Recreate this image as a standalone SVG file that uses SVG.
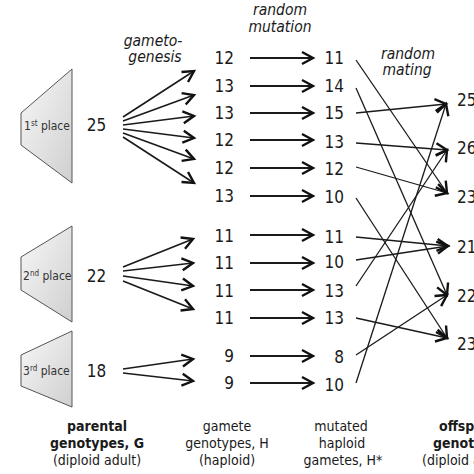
<svg xmlns="http://www.w3.org/2000/svg" width="474" height="474" viewBox="0 0 474 474">
<defs>
<linearGradient id="g" x1="0" y1="0" x2="1" y2="1">
<stop offset="0" stop-color="#f8f8f8"/>
<stop offset="1" stop-color="#cfcfcf"/>
</linearGradient>
<marker id="ah" markerUnits="userSpaceOnUse" orient="auto" markerWidth="16" markerHeight="16" viewBox="-13 -8 16 16" refX="0" refY="0" overflow="visible">
<path d="M-11,-6 L0,0 L-11,6" fill="none" stroke="#111" stroke-width="2.4"/>
</marker>
</defs>
<style>
text{font-family:"DejaVu Sans Condensed","DejaVu Sans",sans-serif;fill:#1a1a1a}
.n{font-size:17px}
.ne{font-size:17px;text-anchor:end}
.hd{font-size:15.5px;font-style:italic;text-anchor:middle}
.bl{font-size:14px;text-anchor:middle}
.b{font-weight:bold}
.pl{font-size:12px;fill:#333}
.trap{fill:url(#g);stroke:#555;stroke-width:1}
.ga{stroke:#1a1a1a;stroke-width:1.6;fill:none;marker-end:url(#ah)}
.mu{stroke:#1a1a1a;stroke-width:1.8;fill:none;marker-end:url(#ah)}
.ma{stroke:#1a1a1a;stroke-width:1.3;fill:none;marker-end:url(#ah)}
</style>
<rect width="474" height="474" fill="#fff"/>

<g id="parent1">
<polygon class="trap" points="21,113 72,69 72,183 21,145"/>
<text class="pl" x="24" y="130">1<tspan font-size="8" dy="-4">st</tspan><tspan dy="4"> place</tspan></text>
<text class="n" x="96.5" y="131" text-anchor="middle">25</text>
</g>
<g id="parent2">
<polygon class="trap" points="21,257 72,226 72,322 21,290"/>
<text class="pl" x="23" y="280">2<tspan font-size="8" dy="-4">nd</tspan><tspan dy="4"> place</tspan></text>
<text class="n" x="96.5" y="282" text-anchor="middle">22</text>
</g>
<g id="parent3">
<polygon class="trap" points="21,355 72,331 72,407 21,386"/>
<text class="pl" x="23" y="375">3<tspan font-size="8" dy="-4">rd</tspan><tspan dy="4"> place</tspan></text>
<text class="n" x="96.5" y="377" text-anchor="middle">18</text>
</g>

<g id="headers">
<text class="hd" x="153" y="46">gameto-</text>
<text class="hd" x="155" y="62">genesis</text>
<text class="hd" x="280" y="15">random</text>
<text class="hd" x="280" y="32">mutation</text>
<text class="hd" x="408" y="59">random</text>
<text class="hd" x="407" y="75">mating</text>
</g>

<g id="gametes">
<text class="ne" x="234" y="64">12</text>
<text class="ne" x="234" y="92">13</text>
<text class="ne" x="234" y="119">13</text>
<text class="ne" x="234" y="146">12</text>
<text class="ne" x="234" y="174">12</text>
<text class="ne" x="234" y="202">13</text>
<text class="ne" x="234" y="242">11</text>
<text class="ne" x="234" y="269">11</text>
<text class="ne" x="234" y="297">11</text>
<text class="ne" x="234" y="324">11</text>
<text class="ne" x="234" y="362">9</text>
<text class="ne" x="234" y="389">9</text>
</g>

<g id="mutated">
<text class="ne" x="344" y="64">11</text>
<text class="ne" x="344" y="92">14</text>
<text class="ne" x="344" y="119">15</text>
<text class="ne" x="344" y="148">13</text>
<text class="ne" x="344" y="175">12</text>
<text class="ne" x="344" y="203">10</text>
<text class="ne" x="344" y="243">11</text>
<text class="ne" x="344" y="268">10</text>
<text class="ne" x="344" y="297">13</text>
<text class="ne" x="344" y="324">13</text>
<text class="ne" x="344" y="363">8</text>
<text class="ne" x="344" y="391">10</text>
</g>

<g id="offspring">
<text class="n" x="457" y="106">25</text>
<text class="n" x="457" y="154">26</text>
<text class="n" x="457" y="203">23</text>
<text class="n" x="457" y="253">21</text>
<text class="n" x="457" y="302">22</text>
<text class="n" x="457" y="350">23</text>
</g>

<g id="connectors">
<line class="ga" x1="123" y1="117" x2="194" y2="71"/>
<line class="ga" x1="123" y1="121" x2="194" y2="95"/>
<line class="ga" x1="123" y1="125" x2="194" y2="116"/>
<line class="ga" x1="123" y1="129" x2="194" y2="138"/>
<line class="ga" x1="123" y1="133" x2="194" y2="159"/>
<line class="ga" x1="123" y1="137" x2="194" y2="183"/>
<line class="ga" x1="123" y1="267" x2="193" y2="239"/>
<line class="ga" x1="123" y1="271" x2="193" y2="263"/>
<line class="ga" x1="123" y1="276" x2="193" y2="286"/>
<line class="ga" x1="123" y1="281" x2="193" y2="309"/>
<line class="ga" x1="123" y1="369" x2="193" y2="359"/>
<line class="ga" x1="123" y1="373" x2="193" y2="381"/>

<line class="mu" x1="250" y1="58" x2="313" y2="58"/>
<line class="mu" x1="250" y1="86" x2="313" y2="86"/>
<line class="mu" x1="250" y1="113" x2="313" y2="113"/>
<line class="mu" x1="250" y1="140" x2="313" y2="140"/>
<line class="mu" x1="250" y1="168" x2="313" y2="168"/>
<line class="mu" x1="250" y1="196" x2="313" y2="196"/>
<line class="mu" x1="250" y1="235" x2="313" y2="235"/>
<line class="mu" x1="250" y1="263" x2="313" y2="263"/>
<line class="mu" x1="250" y1="290" x2="313" y2="290"/>
<line class="mu" x1="250" y1="318" x2="313" y2="318"/>
<line class="mu" x1="250" y1="356" x2="313" y2="356"/>
<line class="mu" x1="250" y1="383" x2="313" y2="383"/>

<line class="ma" x1="356" y1="60" x2="447" y2="193"/>
<line class="ma" x1="356" y1="88" x2="447" y2="295"/>
<line class="ma" x1="356" y1="113" x2="446" y2="104"/>
<line class="ma" x1="356" y1="143" x2="447" y2="150"/>
<line class="ma" x1="356" y1="167" x2="447" y2="193"/>
<line class="ma" x1="356" y1="198" x2="447" y2="338"/>
<line class="ma" x1="356" y1="237" x2="448" y2="246"/>
<line class="ma" x1="356" y1="260" x2="448" y2="246"/>
<line class="ma" x1="356" y1="286" x2="447" y2="150"/>
<line class="ma" x1="356" y1="318" x2="447" y2="338"/>
<line class="ma" x1="356" y1="355" x2="447" y2="295"/>
<line class="ma" x1="356" y1="383" x2="446" y2="104"/>
</g>

<g id="labels">
<text class="bl b" x="97" y="431">parental</text>
<text class="bl b" x="97" y="448">genotypes, G</text>
<text class="bl" x="97" y="465">(diploid adult)</text>
<text class="bl" x="227" y="431">gamete</text>
<text class="bl" x="227" y="448">genotypes, H</text>
<text class="bl" x="227" y="465">(haploid)</text>
<text class="bl" x="341" y="431">mutated</text>
<text class="bl" x="342" y="448">haploid</text>
<text class="bl" x="343" y="465">gametes, H*</text>
<text class="b" font-size="14" x="439" y="431">offspring</text>
<text class="b" font-size="14" x="433" y="448">genotypes</text>
<text font-size="14" x="422" y="465">(diploid adult)</text>
</g>
</svg>
